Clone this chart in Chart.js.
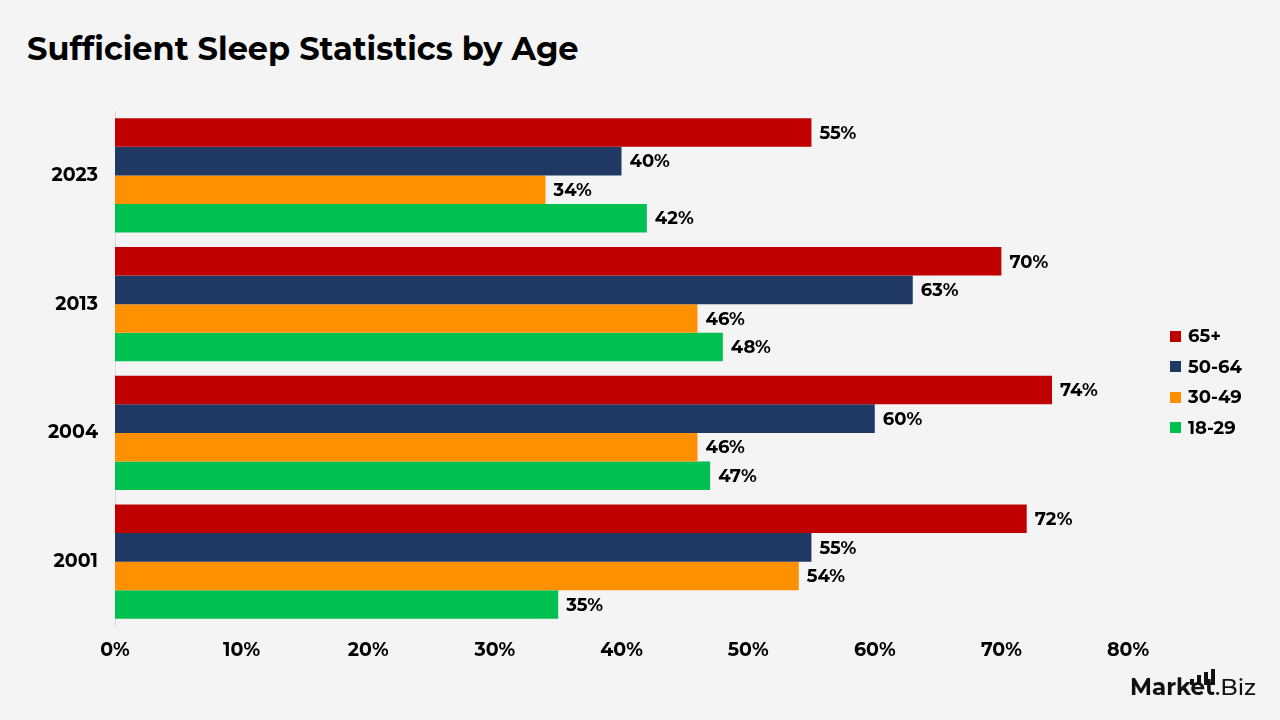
<!DOCTYPE html>
<html>
<head>
<meta charset="utf-8">
<script src="https://cdn.jsdelivr.net/npm/chart.js@4"></script>
<style>
  html, body { margin: 0; padding: 0; background: #f4f4f4; }
  body { width: 1280px; height: 720px; position: relative; overflow: hidden; font-family: Montserrat, Inter, "Noto Sans", sans-serif; }
  #title { position: absolute; left: 27px; top: 29px; font-size: 32px; font-weight: 700; color: #000; }
  #wrap { position: absolute; left: 0; top: 0; width: 1280px; height: 720px; }
  #legend { position: absolute; left: 1170px; top: 321px; font-size: 18px; font-weight: 700; }
  #legend div { height: 30.5px; display: flex; align-items: center; }
  #legend span.box { display: inline-block; width: 11px; height: 11px; margin-right: 7px; }
  #logo { position: absolute; left: 1130px; top: 673px; font-size: 23px; font-weight: 700; color: #111; }
  #logo .biz { font-weight: 500; }
  .lb { position: absolute; width: 4px; background: #111; }
</style>
</head>
<body>
<div id="title">Sufficient Sleep Statistics by Age</div>
<div id="wrap"><canvas id="myChart" width="1280" height="720"></canvas></div>
<div id="legend"></div>
<div id="logo">Market<span class="biz">.Biz</span></div>
<div class="lb" style="left:1190px; top:679px; height:6px;"></div>
<div class="lb" style="left:1197px; top:675px; height:10px;"></div>
<div class="lb" style="left:1204px; top:672px; height:13px;"></div>
<div class="lb" style="left:1211px; top:669px; height:16px;"></div>
<script>
const years = ['2023', '2013', '2004', '2001'];
const groups = ['65+', '50-64', '30-49', '18-29'];
const colors = ['#c00000', '#203864', '#ff9100', '#00c04f'];
const age65 = [55, 70, 74, 72];
const age50 = [40, 63, 60, 55];
const age30 = [34, 46, 46, 54];
const age18 = [42, 48, 47, 35];
const xTicks = [0, 10, 20, 30, 40, 50, 60, 70, 80];

const fontFam = 'Montserrat, Inter, "Noto Sans", sans-serif';
const series = [age65, age50, age30, age18];

const datasets = series.map(function(vals, i) {
  return {
    label: groups[i],
    data: vals,
    backgroundColor: colors[i],
    borderWidth: 0,
    categoryPercentage: 0.886,
    barPercentage: 1.0
  };
});

// value labels at bar ends
const valueLabels = {
  id: 'valueLabels',
  afterDatasetsDraw(chart) {
    const ctx = chart.ctx;
    ctx.save();
    ctx.font = '700 18px ' + fontFam;
    ctx.fillStyle = '#000';
    ctx.textAlign = 'left';
    ctx.textBaseline = 'middle';
    chart.data.datasets.forEach(function(ds, i) {
      const meta = chart.getDatasetMeta(i);
      meta.data.forEach(function(bar, j) {
        ctx.fillText(ds.data[j] + '%', bar.x + 8, bar.y + 1);
      });
    });
    ctx.restore();
  }
};

const legendBox = document.getElementById('legend');
groups.forEach(function(g, i) {
  const row = document.createElement('div');
  row.innerHTML = '<span class="box" style="background:' + colors[i] + '"></span>' + g;
  legendBox.appendChild(row);
});

const myChart = new Chart(document.getElementById('myChart'), {
  type: 'bar',
  data: { labels: years, datasets: datasets },
  options: {
    indexAxis: 'y',
    responsive: false,
    animation: false,
    layout: { padding: { top: 111, right: 152, bottom: 54, left: 0 } },
    plugins: {
      legend: { display: false },
      tooltip: { enabled: false }
    },
    scales: {
      x: {
        min: 0,
        max: 80,
        afterBuildTicks: function(scale) {
          scale.ticks = xTicks.map(function(v) { return { value: v }; });
        },
        afterFit: function(scale) { scale.height = 40; },
        grid: { display: false, drawTicks: false },
        border: { display: false },
        ticks: {
          padding: 13,
          color: '#000',
          font: { family: fontFam, size: 19, weight: '700' },
          callback: function(v) { return v + '%'; }
        }
      },
      y: {
        afterFit: function(scale) { scale.width = 115; },
        grid: { display: false, drawTicks: false },
        border: { display: true, color: '#d9d9d9', width: 1 },
        ticks: {
          padding: 17,
          color: '#000',
          font: { family: fontFam, size: 19, weight: '700' }
        }
      }
    }
  },
  plugins: [valueLabels]
});
</script>
</body>
</html>
